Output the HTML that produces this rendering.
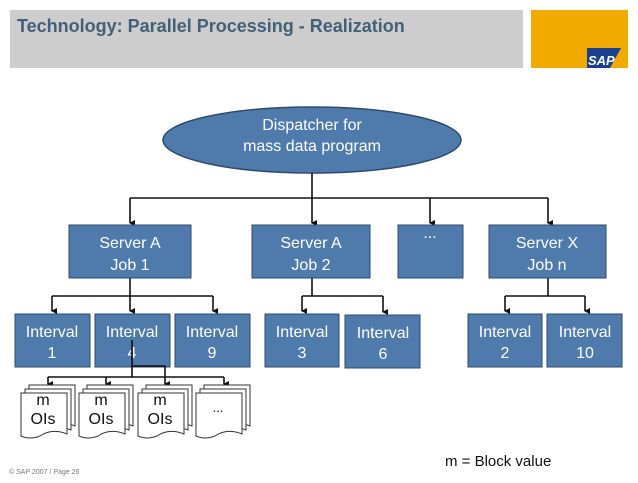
<!DOCTYPE html>
<html><head><style>
body{margin:0;width:638px;height:478px;background:#fff;overflow:hidden;font-family:"Liberation Sans",sans-serif}
</style></head><body>
<svg width="638" height="478" xmlns="http://www.w3.org/2000/svg" font-family="Liberation Sans, sans-serif">
<defs><marker id="a" markerWidth="6" markerHeight="6" refX="3" refY="5" orient="auto" markerUnits="userSpaceOnUse"><path d="M0,0 L6,0 L3,6 z" fill="#111"/></marker></defs>
<rect x="10" y="10" width="513" height="58" fill="#cdcdcd"/>
<text x="17" y="32" font-size="18" font-weight="bold" fill="#426178">Technology: Parallel Processing - Realization</text>
<rect x="531" y="10" width="97" height="58" fill="#f0aa00"/>
<polygon points="587,48 621,48 610,68 587,68" fill="#1b3f8f"/>
<text x="588" y="65" font-size="13" font-weight="bold" fill="#fff" font-style="italic">SAP</text>
<ellipse cx="312" cy="140" rx="149" ry="33" fill="#4f7bac" stroke="#2e4a6a" stroke-width="1.5"/>
<text x="312" y="130" font-size="16" fill="#fff" text-anchor="middle">Dispatcher for</text>
<text x="312" y="151" font-size="16" fill="#fff" text-anchor="middle">mass data program</text>
<g stroke="#111" stroke-width="1.6" fill="none">
<path d="M312,173 V198 M130,198 H548"/>
<path d="M130,198 V223" marker-end="url(#a)"/><path d="M312,198 V223" marker-end="url(#a)"/>
<path d="M430,198 V223" marker-end="url(#a)"/><path d="M548,198 V223" marker-end="url(#a)"/>
<path d="M130,278 V296 M52,296 H213"/>
<path d="M52,296 V311" marker-end="url(#a)"/><path d="M130,296 V311" marker-end="url(#a)"/><path d="M213,296 V311" marker-end="url(#a)"/>
<path d="M312,278 V296 M302,296 H383"/>
<path d="M302,296 V311" marker-end="url(#a)"/><path d="M383,296 V312" marker-end="url(#a)"/>
<path d="M548,278 V296 M505,296 H585"/>
<path d="M505,296 V311" marker-end="url(#a)"/><path d="M585,296 V311" marker-end="url(#a)"/>
</g>
<g fill="#4f7bac" stroke="#2e4a6a" stroke-width="1">
<rect x="69" y="225" width="122" height="53"/><rect x="252" y="225" width="118" height="53"/>
<rect x="398" y="225" width="65" height="53"/><rect x="489" y="225" width="117" height="53"/>
<rect x="15" y="314" width="75" height="53"/><rect x="95" y="314" width="75" height="53"/><rect x="175" y="314" width="75" height="53"/>
<rect x="265" y="314" width="74" height="53"/><rect x="345" y="315" width="75" height="53"/>
<rect x="468" y="314" width="74" height="53"/><rect x="547" y="314" width="75" height="53"/>
</g>
<g fill="#fff" font-size="16" text-anchor="middle">
<text x="130" y="248">Server A</text><text x="130" y="270">Job 1</text>
<text x="311" y="248">Server A</text><text x="311" y="270">Job 2</text>
<text x="430" y="238">...</text>
<text x="547" y="248">Server X</text><text x="547" y="270">Job n</text>
<text x="52" y="337">Interval</text><text x="52" y="358">1</text>
<text x="132" y="337">Interval</text><text x="132" y="358">4</text>
<text x="212" y="337">Interval</text><text x="212" y="358">9</text>
<text x="302" y="337">Interval</text><text x="302" y="358">3</text>
<text x="383" y="338">Interval</text><text x="383" y="359">6</text>
<text x="505" y="337">Interval</text><text x="505" y="358">2</text>
<text x="585" y="337">Interval</text><text x="585" y="358">10</text>
</g>
<g stroke="#111" stroke-width="1.6" fill="none">
<path d="M132,340 V377 M48,377 H224 M132,366 H165 V377"/>
<path d="M48,377 V384" marker-end="url(#a)"/><path d="M106,377 V384" marker-end="url(#a)"/>
<path d="M165,377 V384" marker-end="url(#a)"/><path d="M224,377 V384" marker-end="url(#a)"/>
</g>
<g fill="#fff" stroke="#333" stroke-width="1">
<g id="d"><path d="M29,385 H75 V426 Q60,420 48,428 Q38,432 29,428 Z"/><path d="M25,389 H71 V430 Q56,424 44,432 Q34,436 25,432 Z"/><path d="M21,393 H67 V434 Q52,428 40,436 Q30,440 21,436 Z"/></g>
<use href="#d" x="58"/><use href="#d" x="117"/><use href="#d" x="175"/>
</g>
<g font-size="16" fill="#111" text-anchor="middle">
<text x="43" y="405">m</text><text x="43" y="424">OIs</text>
<text x="101" y="405">m</text><text x="101" y="424">OIs</text>
<text x="160" y="405">m</text><text x="160" y="424">OIs</text>
<text x="218" y="412" font-size="13">...</text>
</g>
<text x="445" y="466" font-size="15" fill="#111">m = Block value</text>
<text x="9" y="474" font-size="7" fill="#777">© SAP 2007 / Page 26</text>
</svg>
</body></html>
